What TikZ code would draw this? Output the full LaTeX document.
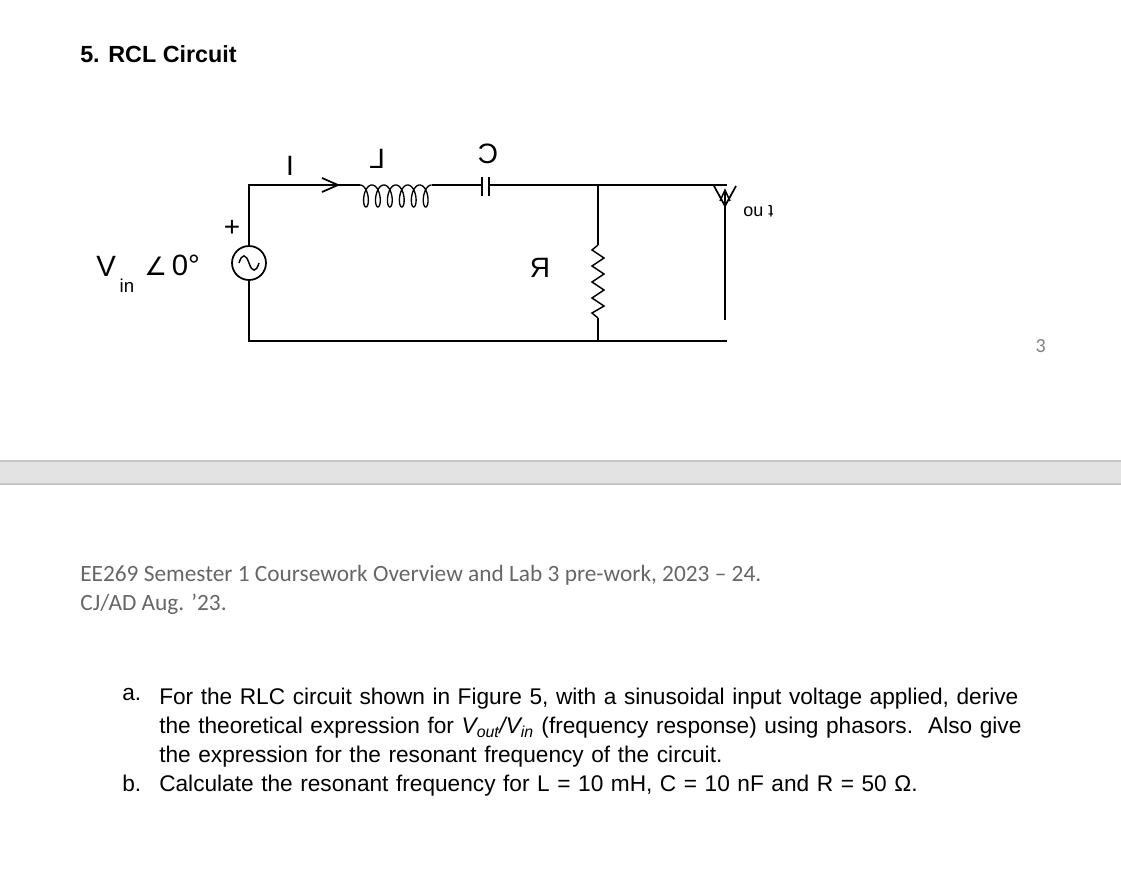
\documentclass[tikz,border=0pt]{standalone}
\usepackage{fontspec}
\setmainfont{Liberation Sans}
\newfontfamily\calib{Carlito}
\begin{document}
\begin{tikzpicture}[x=0.75pt,y=-0.75pt,
  wire/.style={line width=1.3pt},
  lbl/.style={inner sep=0pt,font=\fontsize{21}{24}\selectfont},
  qtext/.style={inner sep=0pt,anchor=north west,font=\fontsize{17}{21.7}\selectfont,text width=655pt,align=left}]
\useasboundingbox (0,0) rectangle (1121,879);
\node[anchor=west,inner sep=0pt,font=\fontsize{17.5}{20}\selectfont\bfseries] (title) at (80,54) {5. RCL Circuit};
% source
\node[draw,circle,line width=1.3pt,minimum size=34pt*0.75,inner sep=0pt] (src) at (249,263) {};
\draw[line width=1.1pt] (239,263) .. controls (242,253) and (246,254) .. (249,263) .. controls (252,272) and (256,273) .. (259,263);
\coordinate (tl) at (249,185);
\coordinate (bl) at (249,341);
\coordinate (a1) at (360,185);
\coordinate (a2) at (432,185);
\coordinate (c1) at (482,185);
\coordinate (c2) at (489,185);
\coordinate (rt) at (598,185);
\coordinate (rb) at (598,341);
\coordinate (r1) at (598,245);
\coordinate (r2) at (598,318);
\coordinate (tr) at (727,185);
\coordinate (br) at (727,341);
\coordinate (vb) at (725,320);
\coordinate (vt) at (725,190);
\draw[wire] (src.north) -- (tl) -- (a1);
\draw[wire] (src.south) -- (bl) -- (br);
\draw[wire] (a2) -- (c1);
\draw[wire] (c2) -- (tr);
\draw[wire] (rt) -- (r1);
\draw[wire] (r2) -- (rb);
% inductor
\draw[line width=1pt] plot[domain=0:37.7,samples=400,smooth] ({360+1.9*\x+5*sin(\x r)},{196-11*cos(\x r)});
% capacitor
\draw[line width=1.3pt] (482,177) -- (482,196) (489,177) -- (489,196);
% resistor
\draw[line width=1.1pt] (r1) -- (592,250) -- (604,258) -- (592,266) -- (604,274) -- (592,282) -- (604,290) -- (592,298) -- (604,306) -- (592,313) -- (r2);
% current arrow
\draw[line width=1.3pt] (322,178) -- (338,185) -- (322,192);
% vout
\draw[line width=1.1pt] (vb) -- (vt);
\draw[line width=1.1pt] (720,201) -- (725,190) -- (730,201);
\draw[line width=1.3pt] (714,186) -- (725,206) (736,186) -- (725,206);
% labels
\node[lbl] (lI) at (290,166) {I};
\node[lbl] (lL) at (377,159) {\scalebox{-1}[1]{L}};
\node[lbl] (lC) at (488,154) {\scalebox{-1}[1]{C}};
\node[lbl] (lR) at (540,268) {\scalebox{-1}[1]{R}};
\node[lbl] (lp) at (232,228) {+};
\node[inner sep=0pt,anchor=west,font=\fontsize{22}{24}\selectfont] (lV) at (96,266) {V};
\node[inner sep=0pt,font=\fontsize{14}{16}\selectfont] (lin) at (127,286) {in};
\node[inner sep=0pt,anchor=west] (lang) at (144,265) {\fontspec{DejaVu Sans}\fontsize{19}{22}\selectfont∠\fontspec{Liberation Sans}\fontsize{22}{24}\selectfont\,0°};
\node[inner sep=0pt,anchor=west,font=\fontsize{13.5}{16}\selectfont] (lout) at (743,211) {ou\ \rotatebox[origin=c]{180}{t}};
% bar
\fill[fill=gray!22] (0,461) rectangle (1121,484);
\draw[line width=1.5pt,gray!45] (0,461) -- (1121,461) (0,484) -- (1121,484);
\node[anchor=east,inner sep=0pt,text=gray,font=\calib\fontsize{15}{16}\selectfont] (pg) at (1046,346) {3};
\node[anchor=north west,inner sep=0pt,text=black!60,align=left,font=\calib\fontsize{17.5}{21.5}\selectfont] (foot) at (80,565) {EE269 Semester 1 Coursework Overview and Lab 3 pre-work, 2023 – 24.\\CJ/AD Aug. ’23.};
% questions
\node[inner sep=0pt,anchor=north west,font=\fontsize{17}{21.7}\selectfont] (qa) at (122,688) {a.};
\node[qtext] (ta) at (159,688) {\hyphenpenalty=10000 \raggedright For the RLC circuit shown in Figure 5, with a sinusoidal input voltage applied, derive the theoretical expression for \textit{V\textsubscript{out}/V\textsubscript{in}} (frequency response) using phasors.\ \ Also give the expression for the resonant frequency of the circuit.};
\node[inner sep=0pt,anchor=north west,font=\fontsize{17}{21.7}\selectfont] (qb) at (122,775) {b.};
\node[qtext] (tb) at (159,775) {Calculate the resonant frequency for L = 10 mH, C = 10 nF and R = 50 Ω.};
\end{tikzpicture}
\end{document}
